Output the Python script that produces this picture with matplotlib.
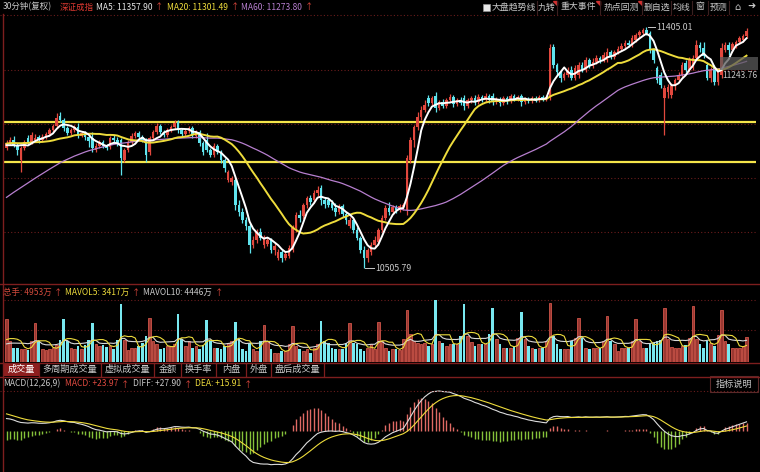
import numpy as np
import pandas as pd
import matplotlib.pyplot as plt
from matplotlib.patches import Rectangle, Polygon
from matplotlib.lines import Line2D

plt.rcParams['font.family'] = ['Noto Sans CJK SC', 'DejaVu Sans']

# ---- data: 深证成指 30分钟 (8 bars per session, 26 sessions) ----
# closes before the visible window, only used to warm up MA60 / MACD
pre_close = [10387, 10406, 10417, 10424, 10432, 10443, 10450, 10462, 10469, 10477,
             10491, 10506, 10529, 10555, 10573, 10592, 10618, 10641, 10656,
             10667, 10685, 10693, 10704, 10715, 10723, 10738, 10753, 10767, 10779, 10790, 10805,
             10816, 10835, 10850, 10864, 10879, 10890, 10902, 10917, 10928,
             10939, 10946, 10954, 10961, 10958, 10965, 10969, 10961,
             10973, 10976, 10984, 10980, 10987, 10984, 10991, 10995, 10984, 10965, 10954, 10946]

bar_open = [
    10954, 10973, 10984, 10965, 10909, 10954, 10991, 10976,
    10984, 10995, 10984, 10995, 11006, 11021, 11036, 11073,
    11058, 11029, 11010, 11021, 11032, 10999, 11010, 10995,
    10991, 10946, 10961, 10976, 10961, 10958, 10991, 10984,
    10984, 10909, 10946, 10976, 10999, 11010, 10995, 10984,
    10939, 10991, 11014, 11036, 11014, 11002, 11021, 11032,
    11051, 11021, 11006, 11017, 11029, 10999, 11014, 10973,
    10984, 10946, 10928, 10961, 10939, 10909, 10835, 10827,
    10835, 10741, 10715, 10685, 10663, 10592, 10611, 10641,
    10592, 10596, 10611, 10573, 10544, 10566, 10544, 10551,
    10573, 10656, 10704, 10700, 10741, 10767, 10760, 10786,
    10805, 10760, 10760, 10749, 10730, 10715, 10738, 10708,
    10663, 10685, 10648, 10618, 10573, 10544, 10566, 10592,
    10603, 10648, 10693, 10730, 10715, 10734, 10723, 10734,
    10723, 10909, 10984, 11032, 11070, 11096, 11140, 11122,
    11148, 11103, 11126, 11111, 11133, 11144, 11118, 11133,
    11140, 11111, 11133, 11140, 11126, 11144, 11133, 11148,
    11148, 11126, 11137, 11122, 11140, 11129, 11148, 11137,
    11148, 11126, 11137, 11129, 11140, 11133, 11144, 11137,
    11140, 11331, 11264, 11237, 11215, 11226, 11245, 11215,
    11226, 11264, 11245, 11282, 11260, 11275, 11290, 11282,
    11282, 11312, 11293, 11312, 11323, 11334, 11346, 11338,
    11357, 11375, 11383, 11394, 11383, 11320, 11252, 11226,
    11140, 11163, 11152, 11185, 11208, 11226, 11271, 11245,
    11252, 11290, 11338, 11327, 11264, 11215, 11252, 11200,
    11226, 11320, 11338, 11320, 11334, 11349, 11357, 11372]

bar_close = [
    10973, 10984, 10965, 10946, 10954, 10976, 10976, 11002,
    10991, 10984, 10995, 11006, 11021, 11036, 11066, 11058,
    11029, 11010, 11021, 11032, 11002, 11010, 10995, 10980,
    10954, 10961, 10976, 10961, 10954, 10991, 10984, 10969,
    10917, 10946, 10976, 10999, 11010, 10995, 10984, 10928,
    10991, 11014, 11036, 11014, 11002, 11021, 11032, 11047,
    11021, 11006, 11017, 11029, 11002, 11014, 10973, 10939,
    10946, 10928, 10961, 10939, 10909, 10879, 10864, 10842,
    10741, 10715, 10685, 10663, 10592, 10611, 10641, 10618,
    10618, 10611, 10573, 10588, 10566, 10544, 10559, 10581,
    10656, 10704, 10693, 10741, 10767, 10753, 10786, 10797,
    10760, 10745, 10741, 10730, 10715, 10738, 10708, 10685,
    10685, 10648, 10618, 10573, 10544, 10573, 10592, 10611,
    10648, 10693, 10730, 10715, 10734, 10723, 10738, 10741,
    10917, 10984, 11032, 11070, 11096, 11114, 11122, 11140,
    11103, 11126, 11111, 11133, 11144, 11118, 11133, 11122,
    11111, 11133, 11140, 11126, 11144, 11133, 11148, 11133,
    11126, 11137, 11122, 11140, 11129, 11148, 11137, 11144,
    11126, 11137, 11129, 11140, 11133, 11144, 11137, 11144,
    11327, 11264, 11237, 11215, 11230, 11245, 11215, 11252,
    11264, 11245, 11282, 11260, 11275, 11290, 11282, 11301,
    11312, 11293, 11312, 11323, 11334, 11346, 11338, 11364,
    11375, 11387, 11394, 11383, 11320, 11282, 11208, 11189,
    11178, 11181, 11185, 11208, 11226, 11264, 11245, 11282,
    11290, 11338, 11327, 11297, 11215, 11245, 11200, 11237,
    11327, 11338, 11320, 11342, 11349, 11364, 11372, 11390]

bar_high = [
    10984, 10995, 10999, 10973, 10961, 10984, 11002, 11014,
    11006, 11002, 11006, 11014, 11029, 11043, 11085, 11088,
    11066, 11036, 11029, 11040, 11047, 11017, 11017, 11002,
    11014, 10973, 10984, 10984, 10969, 10999, 11002, 10995,
    10991, 10954, 10984, 11010, 11017, 11017, 11002, 10991,
    10999, 11021, 11047, 11043, 11021, 11029, 11040, 11058,
    11058, 11029, 11025, 11036, 11036, 11021, 11021, 10980,
    11010, 10954, 10973, 10969, 10946, 10917, 10872, 10850,
    10842, 10760, 10730, 10697, 10670, 10626, 10652, 10656,
    10629, 10622, 10618, 10600, 10577, 10573, 10570, 10592,
    10667, 10715, 10723, 10749, 10775, 10779, 10797, 10812,
    10816, 10771, 10767, 10760, 10749, 10745, 10745, 10715,
    10697, 10693, 10659, 10626, 10588, 10581, 10603, 10626,
    10656, 10704, 10741, 10753, 10741, 10741, 10745, 10749,
    10928, 10995, 11040, 11088, 11111, 11133, 11152, 11148,
    11163, 11133, 11137, 11140, 11155, 11152, 11140, 11144,
    11152, 11140, 11148, 11152, 11155, 11152, 11159, 11155,
    11159, 11144, 11144, 11148, 11148, 11155, 11155, 11152,
    11155, 11144, 11144, 11148, 11148, 11152, 11152, 11152,
    11342, 11342, 11271, 11245, 11237, 11256, 11260, 11264,
    11275, 11275, 11293, 11290, 11290, 11301, 11297, 11312,
    11327, 11320, 11320, 11334, 11346, 11357, 11357, 11375,
    11383, 11394, 11402, 11405.01, 11390, 11327, 11260, 11237,
    11189, 11193, 11196, 11215, 11237, 11275, 11282, 11293,
    11301, 11357, 11349, 11349, 11275, 11256, 11264, 11252,
    11346, 11349, 11349, 11349, 11357, 11372, 11379, 11402]

bar_low = [
    10946, 10965, 10958, 10928, 10864, 10946, 10969, 10969,
    10976, 10973, 10980, 10987, 10999, 11014, 11029, 11051,
    11017, 11002, 11002, 11014, 10991, 10995, 10984, 10958,
    10939, 10939, 10954, 10954, 10946, 10950, 10976, 10961,
    10853, 10902, 10939, 10969, 10991, 10987, 10976, 10902,
    10928, 10984, 11006, 11006, 10995, 10995, 11014, 11025,
    11010, 10999, 10999, 11010, 10991, 10991, 10961, 10928,
    10939, 10920, 10920, 10932, 10898, 10864, 10827, 10816,
    10723, 10700, 10674, 10648, 10562, 10581, 10600, 10611,
    10581, 10588, 10562, 10555, 10537, 10529, 10537, 10544,
    10566, 10641, 10678, 10689, 10730, 10741, 10749, 10775,
    10741, 10730, 10734, 10723, 10700, 10708, 10697, 10670,
    10656, 10637, 10611, 10562, 10505.79, 10529, 10555, 10581,
    10592, 10641, 10685, 10704, 10708, 10711, 10715, 10723,
    10704, 10898, 10958, 11021, 11058, 11088, 11111, 11114,
    11088, 11096, 11103, 11103, 11126, 11107, 11111, 11114,
    11096, 11103, 11122, 11114, 11118, 11126, 11126, 11122,
    11114, 11118, 11111, 11114, 11118, 11122, 11129, 11129,
    11111, 11118, 11122, 11122, 11126, 11126, 11129, 11129,
    11133, 11252, 11226, 11200, 11208, 11219, 11208, 11208,
    11215, 11237, 11237, 11252, 11252, 11267, 11271, 11275,
    11275, 11286, 11286, 11305, 11316, 11327, 11331, 11331,
    11349, 11368, 11375, 11375, 11308, 11271, 11196, 11178,
    11002, 11140, 11140, 11170, 11200, 11219, 11237, 11237,
    11245, 11282, 11312, 11290, 11208, 11200, 11189, 11189,
    11215, 11312, 11301, 11312, 11327, 11342, 11349, 11364]

# volume in 万手
pre_volume = [2800, 2600, 3000, 2800, 2600, 3200, 2800, 3400, 4400]
volume = [
    8600, 4200, 2800, 2800, 2600, 2600, 2400, 4200,
    7800, 4200, 2600, 2400, 2600, 2800, 3400, 4400,
    8600, 4200, 2800, 2600, 3200, 2600, 3400, 4400,
    7800, 3600, 3200, 3400, 3000, 3200, 2600, 4400,
    11600, 4400, 2400, 2800, 2800, 3200, 3800, 5200,
    8800, 4200, 3600, 2600, 2800, 3200, 3200, 3600,
    9600, 4600, 3200, 4200, 2800, 3200, 2600, 3400,
    8400, 4200, 2800, 2800, 2600, 3200, 3800, 4200,
    8000, 4600, 2600, 2200, 3800, 2600, 2200, 4200,
    7400, 4200, 2600, 1800, 1800, 2200, 2200, 3600,
    7200, 3200, 2600, 2200, 2600, 1800, 2800, 3600,
    8200, 4200, 3800, 2800, 2600, 2600, 2600, 3800,
    7800, 3800, 3600, 2600, 2200, 2800, 3600, 2600,
    8000, 4200, 2800, 2200, 2600, 2600, 2400, 4600,
    10400, 5600, 4200, 3800, 3600, 3800, 3200, 3600,
    12400, 4200, 3800, 3200, 3600, 3600, 3600, 5200,
    11600, 5200, 4000, 3200, 3600, 3600, 3600, 5600,
    10800, 4600, 3600, 2800, 2800, 2800, 3200, 4800,
    10000, 4600, 3200, 2800, 2600, 2800, 2800, 4200,
    11800, 5200, 3600, 2600, 2600, 2600, 4200, 4800,
    8800, 4800, 2800, 2600, 2800, 2800, 2800, 4200,
    9200, 4200, 3600, 2200, 2800, 2800, 2800, 4200,
    8600, 4200, 2800, 2800, 3800, 3800, 4200, 4400,
    10800, 4600, 3000, 2800, 2800, 3200, 3400, 4800,
    11200, 4600, 3600, 2800, 4200, 3800, 3200, 5400,
    10400, 4200, 3600, 2800, 2800, 2800, 3200, 4953]

drawn_lines = [11051, 10902]
price_grid = [11243.76, 11042.56, 10841.36, 10640.16]
vol_grid = [12400, 6400]

title_row = [('30分钟(复权)', '#c8c8c8', 3, False), ('深证成指', '#e03a32', 60, False),
             ('MA5: 11357.90', '#e6e6e6', 96, True), ('MA20: 11301.49', '#eedc3c', 167, True),
             ('MA60: 11273.80', '#b77fcf', 241, True)]
vol_row = [('总手: 4953万', '#d24a3c', 3, True), ('MAVOL5: 3417万', '#eedc3c', 65, True),
           ('MAVOL10: 4446万', '#c8c8c8', 143, True)]
macd_row = [('MACD(12,26,9)', '#c8c8c8', 3, False), ('MACD: +23.97', '#e04a40', 65, True),
            ('DIFF: +27.90', '#c8c8c8', 133, True), ('DEA: +15.91', '#eedc3c', 195, True)]

tabs = ['成交量', '多周期成交量', '虚拟成交量', '金额', '换手率', '内盘', '外盘', '盘后成交量']
tab_edges = [4, 39, 101, 154, 181, 216, 246, 271, 324]
buttons = ['大盘趋势线', '九转', '重大事件', '热点回测', '删自选', '均线', '窗', '预测']
button_edges = [481, 537, 557, 600, 642, 671, 692, 708, 729]

# ---- colours ----
RED = '#e2483e'
CYAN = '#5fe4ee'
BORDER = '#7d1e1e'
GRID = '#6a1c1c'
TXT = '#c8c8c8'
YEL = '#eedc3c'
PUR = '#b77fcf'

W, H = 760, 472


def rect(x0, y0, x1, y1):
    return [x0 / W, 1 - y1 / H, (x1 - x0) / W, (y1 - y0) / H]


def text(x, y, s, color=TXT, size=6.1, ha='left', **kw):
    return fig.text(x / W, 1 - y / H, s, color=color, fontsize=size, ha=ha, va='center', **kw)


def hline(y, x0=0, x1=W, **kw):
    fig.add_artist(Line2D([x0 / W, x1 / W], [1 - y / H, 1 - y / H], **kw))


def vline(x, y0, y1, **kw):
    fig.add_artist(Line2D([x / W, x / W], [1 - y0 / H, 1 - y1 / H], **kw))


def header(y, items):
    # each label followed by a small red up-arrow right after its end
    rend = fig.canvas.get_renderer()
    for s, col, x, arrow in items:
        t = text(x, y, s, color=col)
        if arrow:
            x1 = t.get_window_extent(rend).x1
            text(x1 + 2.5, y, '↑', color=RED)


o = np.array(bar_open)
c = np.array(bar_close)
hi = np.array(bar_high)
lo = np.array(bar_low)
v = np.array(volume)
n = len(c)
idx = np.arange(n)
up = c >= o
colors = np.where(up, RED, CYAN)

closes_all = pd.Series(pre_close + bar_close, dtype=float)
ma5 = closes_all.rolling(5).mean().values[-n:]
ma20 = closes_all.rolling(20).mean().values[-n:]
ma60 = closes_all.rolling(60).mean().values[-n:]

vol_all = pd.Series(pre_volume + volume, dtype=float)
mavol5 = vol_all.rolling(5).mean().values[-n:]
mavol10 = vol_all.rolling(10).mean().values[-n:]

ema12 = closes_all.ewm(span=12, adjust=False).mean()
ema26 = closes_all.ewm(span=26, adjust=False).mean()
diff_all = ema12 - ema26
dea_all = diff_all.ewm(span=9, adjust=False).mean()
diff = diff_all.values[-n:]
dea = dea_all.values[-n:]
hist = 2 * (diff - dea)

XLIM = (-0.7, 209.65)

fig = plt.figure(figsize=(W / 100, H / 100), dpi=100, facecolor='black')

# ---- main price panel ----
ax = fig.add_axes(rect(4, 15, 756, 283))
ax.set_axis_off()
ax.set_xlim(*XLIM)
ax.set_ylim(10450.4, 11450.05)
for lvl in price_grid:
    ax.axhline(lvl, color=GRID, lw=0.8, ls=(0, (1, 2)), zorder=0)
for lvl in drawn_lines:
    ax.axhline(lvl, color='#f5e54a', lw=1.6, zorder=1)
ax.vlines(idx, lo, hi, colors=colors, lw=0.9, zorder=2)
ax.bar(idx, np.maximum(np.abs(c - o), 2.5), bottom=np.minimum(o, c), width=0.72,
       color=colors, linewidth=0, zorder=3)
ax.plot(idx, ma60, color=PUR, lw=0.9, zorder=4)
ax.plot(idx, ma20, color=YEL, lw=1.4, zorder=4)
ax.plot(idx, ma5, color='white', lw=1.4, zorder=5)

i_hi = int(np.argmax(hi))
i_lo = int(np.argmin(lo))
ax.plot([i_hi + 0.4, i_hi + 2.3], [hi[i_hi], hi[i_hi]], color=TXT, lw=0.7)
ax.text(i_hi + 2.6, hi[i_hi], f'{hi[i_hi]:.2f}', color=TXT, fontsize=6.3, va='center')
ax.plot([i_lo + 0.4, i_lo + 2.7], [lo[i_lo], lo[i_lo]], color=TXT, lw=0.7)
ax.text(i_lo + 3.0, lo[i_lo], f'{lo[i_lo]:.2f}', color=TXT, fontsize=6.3, va='center')

fig.add_artist(Rectangle((720 / W, 1 - 70 / H), 38 / W, 13 / H, transform=fig.transFigure,
                         facecolor='#5a5a5a', alpha=0.75, edgecolor='none'))
text(757, 76, f'{price_grid[0]:.2f}', color=TXT, size=6.0, ha='right')

# ---- volume panel ----
axv = fig.add_axes(rect(4, 284, 756, 362))
axv.set_axis_off()
axv.set_xlim(*XLIM)
axv.set_ylim(0, 15600)
for lvl in vol_grid:
    axv.axhline(lvl, color=GRID, lw=0.8, ls=(0, (1, 2)), zorder=0)
axv.bar(idx[up], v[up], width=0.72, color='#9a3832', edgecolor='#d0554a', linewidth=0.6)
axv.bar(idx[~up], v[~up], width=0.72, color='#78e8f0', linewidth=0)
axv.plot(idx, mavol10, color='#d8d8d8', lw=0.8)
axv.plot(idx, mavol5, color=YEL, lw=0.8)

# ---- MACD panel ----
axm = fig.add_axes(rect(4, 388, 756, 470))
axm.set_axis_off()
axm.set_xlim(*XLIM)
k = max(diff.max(), dea.max()) / 40.0
axm.set_ylim(-k * 39, k * 43)
axm.vlines(idx, 0, hist, colors=np.where(hist >= 0, '#e06a64', '#86c23a'), lw=1.0)
axm.plot(idx, diff, color='#dcdcdc', lw=0.8)
axm.plot(idx, dea, color=YEL, lw=0.8)

# ---- frame lines ----
hline(14.5, 0, W, color=GRID, lw=0.8, ls=(0, (1, 2)))
hline(283.5, 0, W, color=BORDER, lw=1.0)
hline(362.5, 0, W, color=BORDER, lw=1.0)
hline(376.5, 0, W, color=BORDER, lw=1.0)
hline(391, 0, W, color=GRID, lw=0.8, ls=(0, (1, 2)))
vline(3.5, 14, H, color=BORDER, lw=1.0)

# ---- title row ----
header(7, title_row)

fig.add_artist(Rectangle((483 / W, 1 - 11 / H), 7 / W, 7 / H, transform=fig.transFigure,
                         facecolor='#e8e8e8', edgecolor='#909090', lw=0.5))
for j, lab in enumerate(buttons):
    x0, x1 = button_edges[j], button_edges[j + 1]
    vline(x1, 1, 14, color='#3a2020', lw=0.8)
    cx = (x0 + 10 + x1) / 2 if j == 0 else (x0 + x1) / 2
    text(cx, 7, lab, color=TXT, size=6.4, ha='center')
for x1 in (557, 600, 642):
    fig.add_artist(Polygon([[(x1 - 4) / W, 1 - 1 / H], [(x1 - 0.5) / W, 1 - 1 / H],
                            [(x1 - 0.5) / W, 1 - 4.5 / H]], closed=True,
                           transform=fig.transFigure, color='#d03030'))
text(737, 7, '⌂', color=TXT, size=7, ha='center')
text(751, 7, '➜', color=TXT, size=7, ha='center')

# ---- volume header ----
header(292, vol_row)

# ---- tab row ----
fig.add_artist(Rectangle((tab_edges[0] / W, 1 - 376 / H), (tab_edges[1] - tab_edges[0]) / W,
                         13 / H, transform=fig.transFigure, facecolor='#8e1f1f',
                         edgecolor='none'))
for j, lab in enumerate(tabs):
    x0, x1 = tab_edges[j], tab_edges[j + 1]
    vline(x1, 363, 376, color=BORDER, lw=0.9)
    text((x0 + x1) / 2, 369.5, lab, color='white' if j == 0 else TXT, size=6.6, ha='center')

# ---- MACD header ----
header(384, macd_row)

fig.add_artist(Rectangle((710 / W, 1 - 392 / H), 48 / W, 16 / H, transform=fig.transFigure,
                         facecolor='black', edgecolor='#5a2a2a', lw=0.8))
text(734, 384, '指标说明', color=TXT, size=6.6, ha='center')

fig.savefig('out.png', dpi=100, facecolor='black')
